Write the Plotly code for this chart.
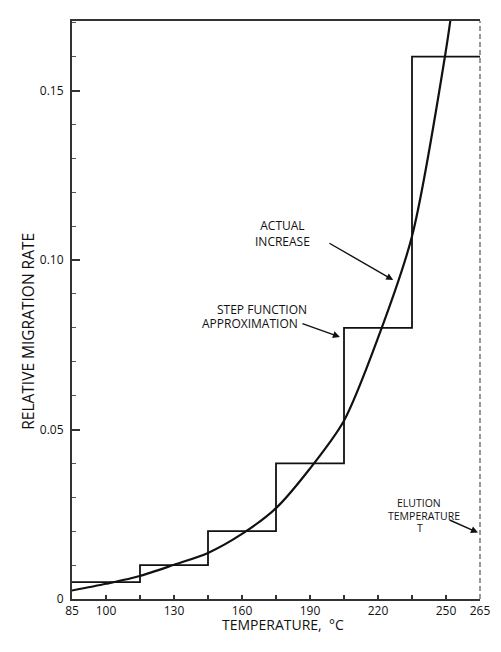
import plotly.graph_objects as go

# --- values ---
step_temp = [85, 115, 145, 175, 205, 235, 265]
step_rate = [0.005, 0.01, 0.02, 0.04, 0.08, 0.16, 0.16]

curve_temp = [85, 100, 115, 130, 145, 160, 175, 190, 205, 220, 235, 250, 255]
curve_rate = [0.0025, 0.0045, 0.0068, 0.0101, 0.0136, 0.0192, 0.0268, 0.0385,
              0.0526, 0.077, 0.107, 0.162, 0.186]

x_ticks = [85, 100, 115, 130, 145, 160, 175, 190, 205, 220, 235, 250, 265]
x_labels = ["85", "100", "", "130", "", "160", "", "190", "", "220", "", "250", "265"]
y_ticks = [0, 0.05, 0.10, 0.15]
y_labels = ["0", "0.05", "0.10", "0.15"]

ink = "#111111"
font = "Open Sans"

fig = go.Figure()

fig.add_trace(go.Scatter(
    x=step_temp, y=step_rate, mode="lines",
    line=dict(color=ink, width=1.8, shape="hv"),
    hoverinfo="skip", showlegend=False,
))
fig.add_trace(go.Scatter(
    x=curve_temp, y=curve_rate, mode="lines",
    line=dict(color=ink, width=2.2, shape="spline", smoothing=0.8),
    hoverinfo="skip", showlegend=False,
))

# dashed right edge = elution temperature
fig.add_shape(type="line", xref="paper", yref="paper", x0=1, x1=1, y0=0, y1=1,
              line=dict(color="#777777", width=1.5, dash="5px,3px"))

# labels: (text, x, y, size)
notes = [
    ("ACTUAL<br>INCREASE", 177.9, 0.1077, 12),
    ("STEP FUNCTION", 168.8, 0.0855, 12),
    ("APPROXIMATION", 163.5, 0.0814, 12),
    ("ELUTION", 238.1, 0.0283, 10.5),
    ("TEMPERATURE", 240.5, 0.0246, 10.5),
    ("T", 238.5, 0.0209, 10.5),
]
for t, x, y, s in notes:
    fig.add_annotation(text=t, x=x, y=y, xref="x", yref="y", showarrow=False,
                       xanchor="center", yanchor="middle",
                       font=dict(family=font, size=s, color=ink))

# arrows: (tail x, tail y, tip x, tip y)
arrows = [
    (197.9, 0.1052, 226.7, 0.0941),
    (186.0, 0.0814, 203.2, 0.0773),
    (250.9, 0.0235, 264.1, 0.0196),
]
for ax, ay, x, y in arrows:
    fig.add_annotation(x=x, y=y, ax=ax, ay=ay, xref="x", yref="y",
                       axref="x", ayref="y", text="", showarrow=True,
                       arrowhead=2, arrowsize=1, arrowwidth=1.4,
                       arrowcolor=ink, standoff=0)

# axis titles
fig.add_annotation(text="TEMPERATURE,  °C", xref="paper", yref="paper",
                   x=0.517, y=-0.0435, showarrow=False,
                   xanchor="center", yanchor="middle",
                   font=dict(family=font, size=14, color=ink))
fig.add_annotation(text="RELATIVE MIGRATION RATE", xref="paper", yref="paper",
                   x=-0.108, y=0.464, showarrow=False, textangle=-90,
                   xanchor="center", yanchor="middle",
                   font=dict(family=font, size=15.5, color=ink))

# page body adds 8px offset, so the figure is drawn 8px smaller
fig.update_layout(
    width=493, height=644,
    margin=dict(l=64, r=21, t=11, b=53),
    paper_bgcolor="white", plot_bgcolor="white",
    font=dict(family=font, size=12, color=ink),
    xaxis=dict(
        range=[85, 265], tickvals=x_ticks, ticktext=x_labels,
        ticks="inside", ticklen=4, tickwidth=1.5, tickcolor="#333",
        showline=True, linewidth=2, linecolor="#333", mirror=True,
        showgrid=False, zeroline=False,
    ),
    yaxis=dict(
        range=[0, 0.1705], tickvals=y_ticks, ticktext=y_labels,
        ticks="inside", ticklen=8, tickwidth=1.5, tickcolor="#333",
        ticklabelstandoff=4,
        minor=dict(ticks="inside", dtick=0.01, tick0=0, ticklen=4,
                   tickwidth=1.2, tickcolor="#555", showgrid=False),
        showline=True, linewidth=2, linecolor="#333",
        showgrid=False, zeroline=False,
    ),
)

fig.write_html("out.html")
